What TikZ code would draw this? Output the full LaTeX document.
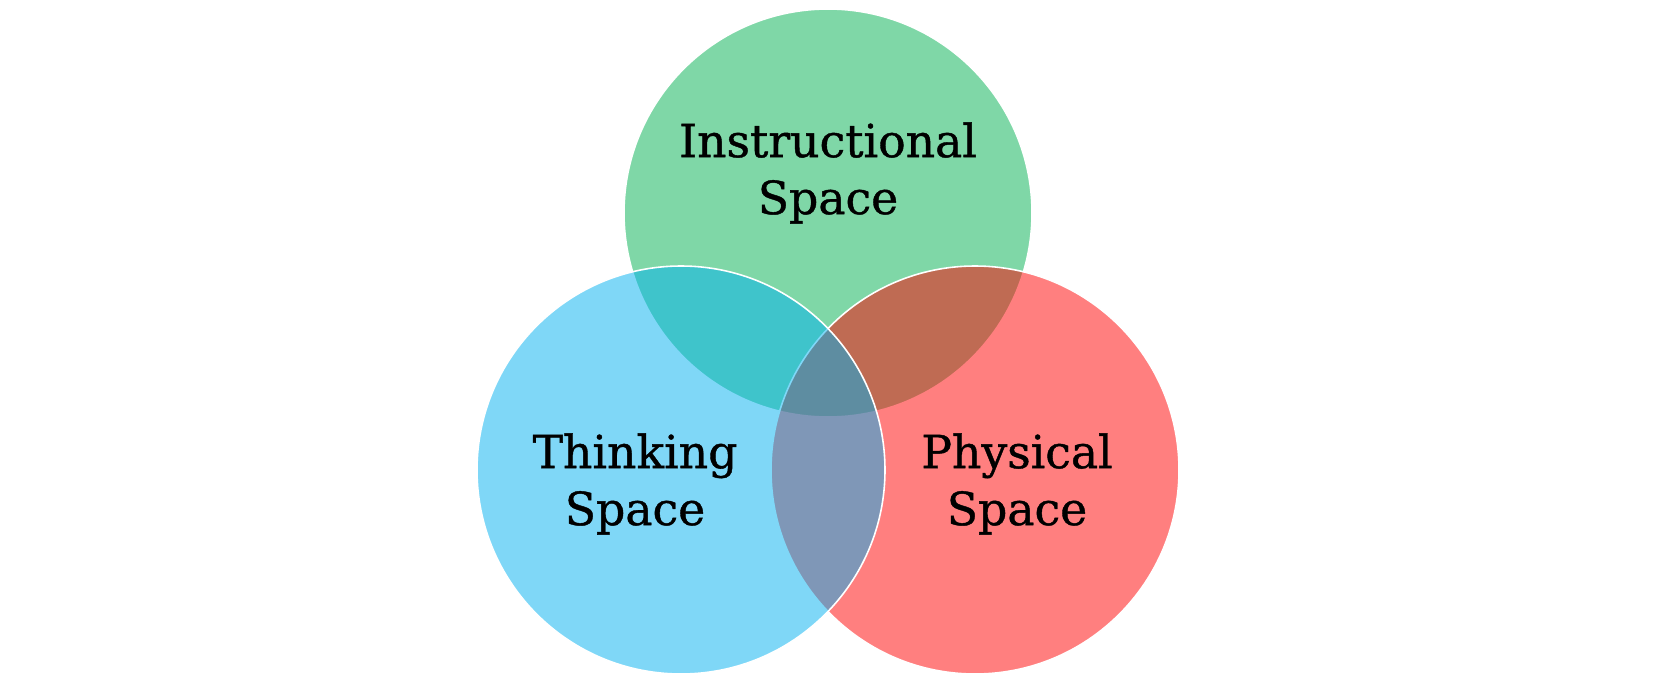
\documentclass[tikz,border=0pt]{standalone}
\usepackage{fontspec}
\setmainfont{DejaVu Serif}
\newfontfamily\vennfont{DejaVu Serif}[FakeBold=0.9]
\usepackage{tikz}
\definecolor{officegreen}{RGB}{0, 176, 80}
\definecolor{officered}{RGB}{255, 0, 0}
\definecolor{officeblue}{RGB}{0, 176, 240}
\tikzset{
    venn/.style={draw=white, line width=0.9pt, fill opacity=0.5},
    spacelabel/.style={font=\vennfont\fontsize{26}{32.4}\selectfont, align=center, text=black, inner sep=0pt}
}

\begin{document}
\begin{tikzpicture}[x=0.02cm, y=-0.02cm]
            % Frame to fix the margins:
            \useasboundingbox                                     (0, 0) rectangle (1656, 686);
            % Instructional circle
            \filldraw[venn, fill=officegreen]                     (828, 213) circle (204);
            % Physical circle
            \filldraw[venn, fill=officered]                       (975, 470) circle (204);
            % Thinking circle
            \filldraw[venn, fill=officeblue]                      (681, 470) circle (204);
            % Labels
            \node[spacelabel] (instructional) at ( 828, 173) {Instructional\\Space};
            \node[spacelabel] (thinking)      at ( 635, 484) {Thinking\\Space};
            \node[spacelabel] (physical)      at (1017, 484) {Physical\\Space};
\end{tikzpicture}
\end{document}
